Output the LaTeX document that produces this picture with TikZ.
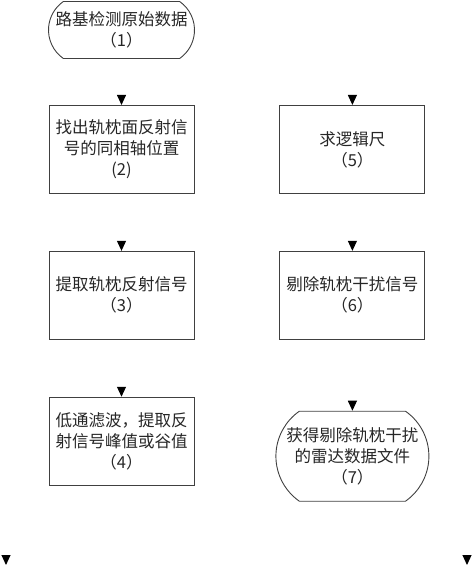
\documentclass[tikz,border=0pt]{standalone}
\usepackage{fontspec}
\newfontfamily\cjk{Noto Sans CJK SC}
\usepackage{xcolor}
\colorlet{LINECOLOR}{black!75}
\colorlet{TEXTCOLOR}{black!85}
\colorlet{TIPCOLOR}{black}
\usepackage{tikz}
\usetikzlibrary{shapes.misc,arrows.meta,positioning,calc}
\tikzset{
  basic-style/.style = {
    draw=LINECOLOR, line width=0.9pt,
    text=TEXTCOLOR, align=center,
    font=\cjk\fontsize{16.5}{21}\selectfont,
    inner sep=1pt
  },
  step-style/.style = {
    basic-style, rectangle,
    minimum width=145pt,
    minimum height=88pt
  },
  term-style/.style = {
    basic-style, rounded rectangle,
    rounded rectangle arc length=110,
    inner xsep=-14pt,
    minimum height=#1
  },
  flow-style/.style = {
    draw=white, line width=1pt, shorten <=1pt,
    -{Triangle[width=9pt,length=10pt,color=TIPCOLOR]}
  }
}
\newlength\stepDistance
\setlength\stepDistance{57pt}
\def\createStep name:#1 display:#2 direct:#3 to:#4;{
  \node [step-style, #3=\stepDistance of #4] (#1) {#2};
}

\begin{document}
\begin{tikzpicture}[x=1pt,y=-1pt]
  \useasboundingbox (0,0) rectangle (474,567);
  % left column
  \node [term-style=57pt, minimum width=118pt] (n1) at (121.5,30) {路基检测原始数据\\（1）};
  \node [step-style, below=46pt of n1] (n2) {找出轨枕面反射信\\号的同相轴位置\\(2)};
  \createStep name:n3 display:{提取轨枕反射信号\\（3）} direct:below to:n2;
  \createStep name:n4 display:{低通滤波，提取反\\射信号峰值或谷值\\（4）} direct:below to:n3;
  % right column
  \node [step-style, right=85pt of n2] (n5) {求逻辑尺\\（5）};
  \createStep name:n6 display:{剔除轨枕干扰信号\\（6）} direct:below to:n5;
  \node [term-style=90pt, minimum width=125pt, below=71pt of n6] (n7) {获得剔除轨枕干扰\\的雷达数据文件\\（7）};

  \coordinate (endL) at (6,565);
  \coordinate (endR) at (467,565);

  \draw [flow-style] (n1) -- (n2);
  \draw [flow-style] (n2) -- (n3);
  \draw [flow-style] (n3) -- (n4);
  \draw [flow-style] (n4.south) -- ++(0,25) -| ($(n2.east)!0.5!(n5.west)$) |- ([yshift=24pt]n5.north) -- (n5.north);
  \draw [flow-style] (n5) -- (n6);
  \draw [flow-style] (n6) -- (n7);
  \draw [flow-style] (n4.south) -- ++(0,35) -| (endL);
  \draw [flow-style] (n7.south) -- ++(0,20) -| (endR);
\end{tikzpicture}
\end{document}
